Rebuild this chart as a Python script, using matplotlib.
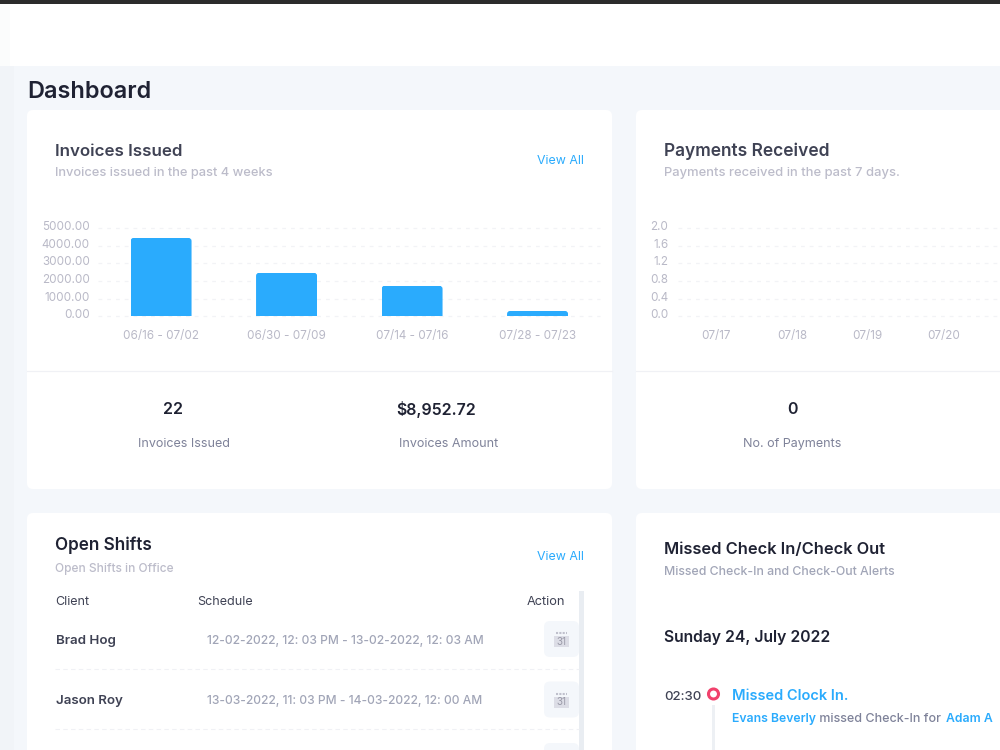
import matplotlib
matplotlib.use("Agg")
import matplotlib.pyplot as plt
from matplotlib.patches import FancyBboxPatch, Rectangle, Circle
from matplotlib.transforms import ScaledTranslation

plt.rcParams['font.family'] = ['Inter', 'DejaVu Sans']

# ---- data ----
invoice_periods = ["06/16 - 07/02", "06/30 - 07/09", "07/14 - 07/16", "07/28 - 07/23"]
invoice_amounts = [4450, 2470, 1730, 302.72]
invoice_ticks = [0, 1000, 2000, 3000, 4000, 5000]
payment_days = ["07/17", "07/18", "07/19", "07/20"]
payment_amounts = [0, 0, 0, 0]
payment_ticks = [0, 0.4, 0.8, 1.2, 1.6, 2.0]
shift_clients = ["Brad Hog", "Jason Roy"]
shift_schedules = ["12-02-2022, 12: 03 PM - 13-02-2022, 12: 03 AM",
                   "13-03-2022, 11: 03 PM - 14-03-2022, 12: 00 AM"]

DARK = "#1f2233"
TITLE = "#3f4254"
MUTED = "#bcbcca"
TICK = "#b9b9c7"
MID = "#7e8299"
BLUE = "#2aabfd"
PAGE = "#f4f7fb"
LINE = "#f0f1f5"
TRACK = "#edf0f4"

fig = plt.figure(figsize=(10, 7.5), dpi=100, facecolor="white")
bg = fig.add_axes([0, 0, 1, 1], zorder=0)
bg.set_xlim(0, 1000)
bg.set_ylim(750, 0)
bg.axis("off")

bg.add_patch(Rectangle((0, 66), 1000, 684, fc=PAGE, ec="none"))
bg.add_patch(Rectangle((0, 0), 1000, 3.5, fc="#2b2b2b", ec="none"))
bg.add_patch(Rectangle((0, 66), 14, 684, fc="#f1f4f8", ec="none"))
bg.add_patch(Rectangle((0, 3.5), 10, 62.5, fc="#fbfcfc", ec="none"))


def card(x0, y0, x1, y1):
    r = 6
    bg.add_patch(FancyBboxPatch((x0 + r, y0 + r), x1 - x0 - 2 * r, y1 - y0 - 2 * r,
                                boxstyle=f"round,pad={r},rounding_size={r}",
                                fc="white", ec="none"))


card(27, 110, 612, 489)
card(636, 110, 1030, 489)
card(27, 513, 612, 790)
card(636, 513, 1030, 790)


def label(x, y, s, size, color, weight="normal", ha="left"):
    return bg.text(x, y + 1.6, s, fontsize=size, color=color, fontweight=weight,
                   ha=ha, va="center", clip_on=True)


label(27.5, 90, "Dashboard", 16.9, DARK, "semibold")

label(55, 150, "Invoices Issued", 12.2, TITLE, "semibold")
label(55, 171, "Invoices issued in the past 4 weeks", 9.25, MUTED, "medium")
label(584, 159, "View All", 8.9, BLUE, ha="right")
label(664, 150, "Payments Received", 12.5, TITLE, "semibold")
label(664, 171, "Payments received in the past 7 days.", 9.35, MUTED, "medium")

for x0, x1 in [(27, 612), (636, 1000)]:
    bg.plot([x0, x1], [371, 371], color=LINE, lw=0.9)

label(172.5, 408, "22", 11.5, DARK, "semibold", "center")
label(184.5, 442, "Invoices Issued", 9, MID, ha="center")
label(436.5, 408, "$8,952.72", 11.5, DARK, "semibold", "center")
label(449, 442, "Invoices Amount", 9, MID, ha="center")
label(792.5, 408, "0", 11.5, DARK, "semibold", "center")
label(792, 442, "No. of Payments", 9, MID, ha="center")

# Open shifts
label(55, 544, "Open Shifts", 12.3, DARK, "semibold")
label(55, 567.5, "Open Shifts in Office", 8.6, MUTED, "medium")
label(584, 555, "View All", 8.9, BLUE, ha="right")
label(55, 600, "Client", 9, TITLE)
label(197.5, 600, "Schedule", 9, TITLE)
label(527, 600, "Action", 9.2, TITLE)
bg.add_patch(Rectangle((579, 591), 5, 170, fc="#e9edf2", ec="none"))

rows_y = [639, 699.5, 761]
for i, y in enumerate(rows_y):
    bg.add_patch(FancyBboxPatch((550, y - 12), 23, 24, boxstyle="round,pad=6,rounding_size=6",
                                fc=PAGE, ec="none"))
    if i < len(shift_clients):
        bg.add_patch(Rectangle((554, y - 3), 15, 11, fc="#dcdde6", ec="none"))
        bg.plot([556, 567], [y - 6, y - 6], color="#bfc0cc", lw=1.5, ls=(0, (1, 0.6)))
        label(561.5, y + 1, "31", 7, "#9a9aa8", ha="center")
        label(55.5, y, shift_clients[i], 9.6, TITLE, "semibold")
        label(207, y, shift_schedules[i], 8.65, "#a1a5b7", "medium")
for y in [668.5, 729]:
    bg.plot([55, 579], [y, y], color=LINE, lw=0.8, ls=(0, (4, 3)))

# Missed check in
label(664, 548, "Missed Check In/Check Out", 11.8, DARK, "semibold")
label(664, 570.5, "Missed Check-In and Check-Out Alerts", 8.9, "#a1a5b7", "medium")
label(664, 636, "Sunday 24, July 2022", 11.3, DARK, "semibold")
label(664, 695, "02:30", 9.5, TITLE, "medium")
bg.add_patch(Rectangle((712, 705), 2.5, 50, fc=TRACK, ec="none"))
bg.add_patch(Circle((713.5, 694), 5, fc="white", ec="#f1416c", lw=2.2))
label(731.5, 694, "Missed Clock In.", 10.5, BLUE, "semibold")

renderer = fig.canvas.get_renderer()
x = 731.5
for s, c, w in [("Evans Beverly", BLUE, "semibold"), (" missed Check-In for ", MID, "medium"),
                ("Adam A", BLUE, "semibold")]:
    t = label(x, 717.5, s.replace(" ", "\u00a0"), 9.0 if c == MID else 8.8, c, w)
    x = t.get_window_extent(renderer).x1 + 1


def chart(left, right, cats, vals, ticks, fmt, xlim, ypad):
    top, bottom = 228.3, 316.3
    ax = fig.add_axes([left / 1000, 1 - bottom / 750, (right - left) / 1000, (bottom - top) / 750],
                      zorder=2)
    ax.patch.set_alpha(0)
    bars = ax.bar(range(len(cats)), vals, width=0.486, color=BLUE, zorder=3)
    ax.set_xlim(*xlim)
    ax.set_ylim(ticks[0], ticks[-1])
    ax.set_yticks(ticks, [fmt.format(v) for v in ticks])
    ax.set_xticks(range(len(cats)), cats)
    ax.tick_params(axis="both", length=0, labelsize=8.4, labelcolor=TICK)
    ax.tick_params(axis="x", pad=10)
    ax.tick_params(axis="y", pad=ypad)
    ax.grid(axis="y", color="#f2f3f6", lw=0.9, ls=(0, (3, 4)), zorder=0)
    for gl in ax.get_ygridlines():
        gl.set_clip_on(False)
    for sp in ax.spines.values():
        sp.set_visible(False)
    shift = ScaledTranslation(0, 2.5 / 72 * 72 / 100, fig.dpi_scale_trans)
    for lab in ax.get_yticklabels():
        lab.set_transform(lab.get_transform() + shift)
    # rounded top corners, 3 px radius, clip each bar to a rounded box
    x_per_px = (xlim[1] - xlim[0]) / (right - left)
    y_per_px = (ticks[-1] - ticks[0]) / (bottom - top)
    for b in bars:
        if b.get_height() > 0:
            clip = FancyBboxPatch((b.get_x(), -10 * y_per_px), b.get_width(),
                                  b.get_height() + 10 * y_per_px,
                                  boxstyle=f"round,pad=0,rounding_size={3 * x_per_px}",
                                  mutation_aspect=y_per_px / x_per_px,
                                  transform=ax.transData)
            b.set_clip_path(clip)
    return ax


chart(98.3, 600.3, invoice_periods, invoice_amounts, invoice_ticks, "{:.2f}", (-0.5, 3.5), 6)
chart(678, 1000, payment_days, payment_amounts, payment_ticks, "{:.1f}", (-0.5, 3.74), 7)

fig.savefig("out.png", dpi=100)
